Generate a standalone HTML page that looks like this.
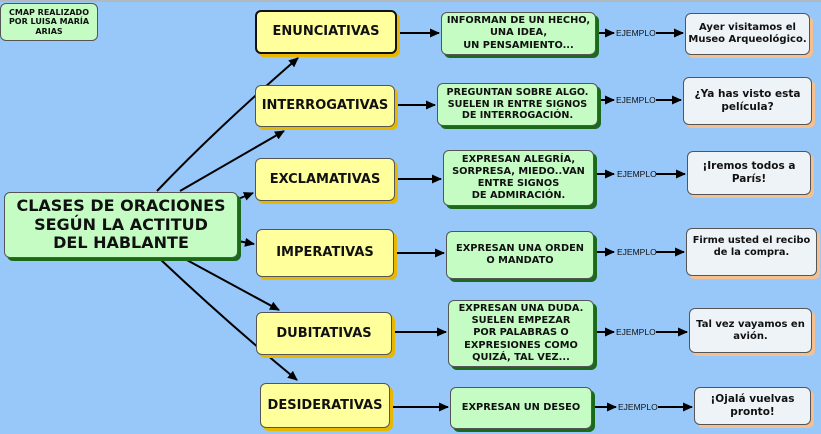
<!DOCTYPE html>
<html><head><meta charset="utf-8"><style>
body{margin:0;width:821px;height:434px;background:#98c8fa;overflow:hidden;position:relative;font-family:"DejaVu Sans","Liberation Sans",sans-serif;font-weight:bold;}
.top{position:absolute;left:0;top:0;width:821px;height:2px;background:#b0b8c0}
.b{position:absolute;box-sizing:border-box;display:flex;align-items:center;justify-content:center;text-align:center;border:1px solid #555;border-radius:6px;color:#111;line-height:1.2;white-space:nowrap}
.y{background:#ffff9c;box-shadow:3px 3px 0 #e8b800;font-size:13px}
.g{background:#c4fcc4;box-shadow:3px 3px 0 #1a6a1a;font-size:9.8px;line-height:1.25}
.w{background:#eef3f8;box-shadow:3px 3px 0 #f4c090;font-size:10.5px}
.e{position:absolute;font-family:"Liberation Sans",sans-serif;font-weight:normal;font-size:8.5px;color:#111}
svg{position:absolute;left:0;top:0}
</style></head><body>
<div class="top"></div>
<svg width="821" height="434">
<defs>
<marker id="s" markerWidth="10" markerHeight="9" refX="9" refY="4.5" orient="auto" markerUnits="userSpaceOnUse"><path d="M0,0 L10,4.5 L0,9 z" fill="#000"/></marker></defs>
<g stroke="#000" stroke-width="2" fill="none">
<path d="M157,191 Q215,130 298,58" marker-end="url(#s)"/>
<path d="M180,191 L284,131" marker-end="url(#s)"/>
<path d="M238,199 L253,193" marker-end="url(#s)"/>
<path d="M238,241 L254,244" marker-end="url(#s)"/>
<path d="M185,259 L279,310" marker-end="url(#s)"/>
<path d="M160,259 Q230,325 297,380" marker-end="url(#s)"/>
<path d="M397,33 L439,33" marker-end="url(#s)"/>
<path d="M395,105 L435,105" marker-end="url(#s)"/>
<path d="M395,179 L441,179" marker-end="url(#s)"/>
<path d="M394,253 L444,253" marker-end="url(#s)"/>
<path d="M392,332 L446,332" marker-end="url(#s)"/>
<path d="M390,407 L448,407" marker-end="url(#s)"/>
<path d="M599,33 L614,33" marker-end="url(#s)"/><path d="M656,33 L683,33" marker-end="url(#s)"/>
<path d="M600,100 L614,100" marker-end="url(#s)"/><path d="M656,100 L681,100" marker-end="url(#s)"/>
<path d="M597,174 L614,174" marker-end="url(#s)"/><path d="M656,174 L685,174" marker-end="url(#s)"/>
<path d="M597,252 L614,252" marker-end="url(#s)"/><path d="M656,252 L684,252" marker-end="url(#s)"/>
<path d="M597,332 L614,332" marker-end="url(#s)"/><path d="M656,332 L687,332" marker-end="url(#s)"/>
<path d="M595,407 L616,407" marker-end="url(#s)"/><path d="M658,407 L692,407" marker-end="url(#s)"/>
</g></svg>
<div class="b g" style="left:0;top:3px;width:98px;height:38px;font-size:8px;box-shadow:none;line-height:1.15">CMAP REALIZADO<br>POR LUISA MARÍA<br>ARIAS</div>
<div class="b g" style="left:4px;top:192px;width:234px;height:66px;font-size:16px;line-height:1.15">CLASES DE ORACIONES<br>SEGÚN LA ACTITUD<br>DEL HABLANTE</div>
<div class="b y" style="left:255px;top:10px;width:142px;height:44px;border:2px solid #111">ENUNCIATIVAS</div>
<div class="b y" style="left:255px;top:85px;width:140px;height:42px">INTERROGATIVAS</div>
<div class="b y" style="left:255px;top:158px;width:140px;height:43px">EXCLAMATIVAS</div>
<div class="b y" style="left:256px;top:229px;width:138px;height:48px">IMPERATIVAS</div>
<div class="b y" style="left:256px;top:312px;width:136px;height:43px">DUBITATIVAS</div>
<div class="b y" style="left:260px;top:383px;width:130px;height:45px">DESIDERATIVAS</div>
<div class="b g" style="left:441px;top:12px;width:155px;height:43px">INFORMAN DE UN HECHO,<br>UNA IDEA,<br>UN PENSAMIENTO...</div>
<div class="b g" style="left:437px;top:83px;width:161px;height:43px;font-size:9.6px">PREGUNTAN SOBRE ALGO.<br>SUELEN IR ENTRE SIGNOS<br>DE INTERROGACIÓN.</div>
<div class="b g" style="left:443px;top:150px;width:151px;height:56px">EXPRESAN ALEGRÍA,<br>SORPRESA, MIEDO..VAN<br>ENTRE SIGNOS<br>DE ADMIRACIÓN.</div>
<div class="b g" style="left:446px;top:231px;width:148px;height:48px">EXPRESAN UNA ORDEN<br>O MANDATO</div>
<div class="b g" style="left:448px;top:300px;width:146px;height:67px">EXPRESAN UNA DUDA.<br>SUELEN EMPEZAR<br>POR PALABRAS O<br>EXPRESIONES COMO<br>QUIZÁ, TAL VEZ...</div>
<div class="b g" style="left:450px;top:387px;width:142px;height:42px">EXPRESAN UN DESEO</div>
<div class="e" style="left:616px;top:28px">EJEMPLO</div>
<div class="e" style="left:616px;top:95px">EJEMPLO</div>
<div class="e" style="left:617px;top:169px">EJEMPLO</div>
<div class="e" style="left:617px;top:247px">EJEMPLO</div>
<div class="e" style="left:616px;top:327px">EJEMPLO</div>
<div class="e" style="left:618px;top:402px">EJEMPLO</div>
<div class="b w" style="left:685px;top:13px;width:125px;height:42px;font-size:10px">Ayer visitamos el<br>Museo Arqueológico.</div>
<div class="b w" style="left:683px;top:77px;width:129px;height:48px">¿Ya has visto esta<br>película?</div>
<div class="b w" style="left:687px;top:151px;width:124px;height:44px">¡Iremos todos a<br>París!</div>
<div class="b w" style="left:686px;top:228px;width:131px;height:48px;align-items:flex-start;padding-top:6px;font-size:9.8px">Firme usted el recibo<br>de la compra.</div>
<div class="b w" style="left:689px;top:308px;width:123px;height:45px;font-size:10px">Tal vez vayamos en<br>avión.</div>
<div class="b w" style="left:694px;top:387px;width:117px;height:38px">¡Ojalá vuelvas<br>pronto!</div>
</body></html>
